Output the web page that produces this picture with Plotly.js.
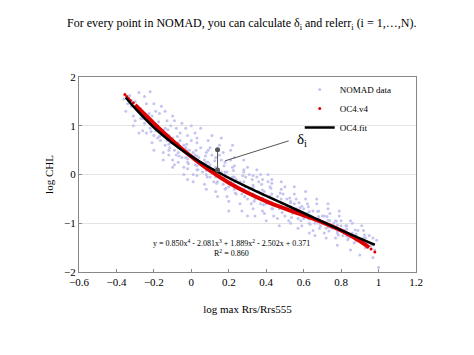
<!DOCTYPE html>
<html><head><meta charset="utf-8">
<script src="https://cdn.plot.ly/plotly-3.0.1.min.js"></script>
<style>body{margin:0;background:#fff}#c{width:474px;height:355px}</style>
</head><body><div id="c"></div>
<script>
// NOMAD cloud
const nomadX = [-0.36,-0.34,-0.33,-0.35,
-0.31,-0.30,-0.29,-0.28,-0.31,-0.28,-0.30,
-0.26,-0.25,-0.24,-0.26,-0.23,-0.25,-0.24,-0.22,-0.26,
-0.21,-0.20,-0.19,-0.21,-0.18,-0.20,-0.19,-0.17,-0.20,-0.18,-0.16,-0.21,
-0.15,-0.14,-0.13,-0.15,-0.12,-0.14,-0.13,-0.11,-0.15,-0.12,-0.10,-0.14,-0.11,
-0.10,-0.09,-0.08,-0.10,-0.07,-0.09,-0.08,-0.06,-0.10,-0.07,-0.05,-0.09,-0.06,-0.05,
-0.04,-0.03,-0.02,-0.04,-0.01,-0.03,-0.02,0.00,-0.04,-0.01,0.00,-0.03,-0.02,
0.01,0.02,0.03,0.01,0.04,0.02,0.03,0.05,0.01,0.04,0.05,0.02,0.06,0.03,
0.07,0.08,0.09,0.07,0.10,0.09,0.10,0.11,0.08,0.12,0.11,0.09,0.12,0.10,
0.13,0.14,0.15,0.13,0.16,0.15,0.17,0.16,0.14,0.18,0.17,0.15,0.18,0.16,
0.19,0.20,0.21,0.19,0.22,0.21,0.23,0.22,0.20,0.24,0.23,0.21,0.24,0.22,0.20,
0.26,0.27,0.28,0.26,0.29,0.28,0.30,0.29,0.27,0.31,0.30,0.28,0.32,0.31,0.30,
0.33,0.34,0.35,0.33,0.36,0.35,0.37,0.36,0.34,0.38,0.37,0.35,0.38,
0.39,0.40,0.41,0.39,0.42,0.41,0.43,0.42,0.40,0.44,0.43,0.41,0.44,
0.46,0.47,0.48,0.46,0.49,0.48,0.50,0.49,0.47,0.51,0.50,0.52,0.51,
0.53,0.54,0.55,0.53,0.56,0.55,0.57,0.56,0.58,0.57,0.55,
0.59,0.60,0.61,0.59,0.62,0.61,0.63,0.62,0.64,0.63,0.60,
0.65,0.66,0.67,0.65,0.68,0.67,0.69,0.68,0.66,0.70,
0.71,0.72,0.73,0.71,0.74,0.73,0.75,0.74,0.72,0.76,
0.77,0.78,0.79,0.77,0.80,0.79,0.81,0.80,0.82,0.78,
0.83,0.84,0.85,0.86,0.87,0.86,0.88,0.85,
0.89,0.90,0.91,0.92,0.93,0.92,0.94,0.90,
0.95,0.96,0.97,0.98,0.99,0.97,1.00];
const nomadY = [1.55,1.45,1.62,1.30,
1.20,1.50,1.35,1.68,1.00,0.85,1.10,
1.30,1.05,1.45,0.90,1.20,1.60,0.85,1.70,1.15,
1.10,0.80,1.30,0.65,1.00,1.45,0.90,1.25,0.50,0.75,1.40,1.20,
0.90,0.60,1.10,0.45,0.80,1.30,0.70,1.00,0.30,0.50,1.20,0.95,0.65,
0.75,0.50,0.95,0.30,0.65,1.10,0.40,0.85,0.15,0.55,1.05,0.20,0.70,0.35,
0.60,0.35,0.80,0.15,0.50,0.95,0.25,0.70,0.00,0.40,1.00,0.55,-0.10,
0.45,0.20,0.65,0.00,0.35,0.85,0.10,0.55,-0.15,0.25,0.95,0.40,0.05,0.75,
0.30,0.00,0.50,-0.20,0.20,0.70,-0.05,0.40,-0.30,0.10,0.80,0.25,-0.15,0.55,
0.15,-0.15,0.40,-0.35,0.05,0.60,-0.20,0.30,-0.45,0.00,0.45,-0.05,-0.30,0.75,
0.05,-0.25,0.30,-0.45,-0.05,0.50,-0.30,0.15,-0.55,-0.10,0.35,-0.15,-0.40,0.60,-0.75,
-0.15,-0.40,0.10,-0.60,-0.25,0.30,-0.50,-0.05,-0.75,-0.30,0.15,-0.35,-0.60,0.00,-0.85,
-0.25,-0.50,-0.05,-0.70,-0.35,0.10,-0.60,-0.15,-0.85,-0.40,0.00,-0.45,-0.75,
-0.35,-0.60,-0.15,-0.80,-0.45,0.00,-0.70,-0.25,-0.95,-0.50,-0.10,-0.55,-0.85,
-0.45,-0.70,-0.30,-0.90,-0.60,-0.15,-0.85,-0.40,-1.05,-0.65,-0.25,-0.95,-0.50,
-0.55,-0.80,-0.40,-1.00,-0.70,-0.25,-0.90,-0.50,-0.75,-1.10,-0.60,
-0.65,-0.90,-0.50,-1.05,-0.80,-0.35,-1.00,-0.60,-0.85,-1.20,-0.70,
-0.75,-1.00,-0.60,-1.15,-0.90,-0.50,-1.05,-0.75,-1.25,-0.85,
-0.85,-1.10,-0.70,-1.20,-0.95,-0.60,-1.10,-0.80,-1.30,-1.00,
-0.95,-1.20,-0.85,-1.30,-1.05,-0.75,-1.25,-0.95,-1.15,-1.45,
-1.05,-1.30,-0.95,-1.20,-1.40,-1.00,-1.25,-1.55,
-1.15,-1.35,-1.05,-1.30,-1.50,-1.15,-1.40,-1.65,
-1.25,-1.45,-1.30,-1.55,-1.35,-1.70,-1.90];
// denser core of the cloud
const nomadCoreX = [-0.32,-0.32,
-0.27,-0.27,-0.275,
-0.22,-0.22,-0.225,-0.215,
-0.17,-0.17,-0.175,-0.165,-0.17,
-0.12,-0.12,-0.125,-0.115,-0.12,-0.12,
-0.07,-0.07,-0.075,-0.065,-0.07,-0.07,
-0.02,-0.02,-0.025,-0.015,-0.02,-0.02,
0.03,0.03,0.025,0.035,0.03,0.03,
0.08,0.08,0.075,0.085,0.08,0.08,
0.13,0.13,0.125,0.135,0.13,0.13,
0.18,0.18,0.175,0.185,0.18,0.18,
0.23,0.23,0.225,0.235,0.23,0.23,
0.28,0.28,0.275,0.285,0.28,0.28,
0.33,0.33,0.325,0.335,0.33,0.33,
0.38,0.38,0.375,0.385,0.38,0.38,
0.43,0.43,0.425,0.435,0.43,0.43,
0.48,0.48,0.475,0.485,0.48,
0.53,0.53,0.525,0.535,0.53,
0.58,0.58,0.575,0.585,0.58,
0.63,0.63,0.625,0.635,0.63,
0.68,0.68,0.675,0.685,0.68,
0.73,0.73,0.725,0.735,
0.78,0.78,0.775,0.785,
0.83,0.83,0.825,0.835,
0.88,0.88,0.875,
0.93,0.93,0.925];
const nomadCoreY = [1.40,1.52,
1.35,1.15,1.28,
1.12,0.95,1.25,0.88,
0.95,0.78,1.08,0.70,0.88,
0.80,0.62,0.92,0.55,0.72,0.40,
0.62,0.45,0.78,0.38,0.55,0.25,
0.50,0.32,0.62,0.22,0.42,0.12,
0.38,0.18,0.50,0.10,0.28,-0.02,
0.25,0.08,0.38,-0.05,0.15,0.45,
0.15,-0.05,0.28,-0.18,0.05,0.35,
0.05,-0.12,0.18,-0.28,-0.05,0.25,
-0.05,-0.22,0.08,-0.38,-0.15,0.18,
-0.15,-0.30,-0.02,-0.45,-0.22,0.05,
-0.22,-0.40,-0.10,-0.55,-0.30,-0.02,
-0.32,-0.48,-0.20,-0.62,-0.40,-0.10,
-0.40,-0.58,-0.28,-0.70,-0.48,-0.18,
-0.50,-0.66,-0.38,-0.78,-0.58,
-0.58,-0.75,-0.48,-0.88,-0.66,
-0.68,-0.82,-0.58,-0.95,-0.75,
-0.76,-0.92,-0.66,-1.02,-0.84,
-0.86,-1.00,-0.76,-1.10,-0.93,
-0.94,-1.08,-0.86,-1.16,
-1.04,-1.16,-0.96,-1.24,
-1.12,-1.26,-1.05,-1.34,
-1.22,-1.36,-1.14,
-1.30,-1.44,-1.24];

// OC4.v4 model values
const oc4X = [-0.30,-0.25,-0.20,-0.15,-0.10,-0.05,0.00,0.10,0.20,0.30,0.40,0.50,0.60,0.70,0.80,0.90,0.95];
const oc4Y = [1.430,1.236,1.049,0.867,0.691,0.525,0.366,0.079,-0.168,-0.375,-0.550,-0.700,-0.838,-0.980,-1.148,-1.363,-1.497];
const oc4DotX = [-0.355,-0.345,-0.335,-0.325,-0.31,0.96,0.98];
const oc4DotY = [1.64,1.60,1.56,1.52,1.47,-1.53,-1.59];

// OC4.fit values
const fitX = [-0.35,-0.30,-0.20,-0.10,0.00,0.10,0.20,0.30,0.40,0.50,0.60,0.70,0.80,0.90,0.98];
const fitY = [1.580,1.355,0.965,0.642,0.371,0.138,-0.069,-0.259,-0.439,-0.615,-0.790,-0.965,-1.139,-1.310,-1.441];

// delta illustration
const deltaX = [0.14,0.14];
const deltaY = [0.51,0.09];
const leaderX = [0.18,0.52];
const leaderY = [0.28,0.69];

const serif = 'Liberation Serif';
const traces = [
 {x:nomadX.concat(nomadCoreX),y:nomadY.concat(nomadCoreY),mode:'markers',type:'scatter',name:'NOMAD data',
  marker:{size:3,color:'rgb(196,196,240)'}},
 {x:oc4X,y:oc4Y,mode:'lines',type:'scatter',name:'OC4.v4',showlegend:false,
  line:{color:'#e00000',width:4,shape:'spline'}},
 {x:oc4DotX,y:oc4DotY,mode:'markers',type:'scatter',name:'OC4.v4',
  marker:{size:3,color:'#e00000'}},
 {x:fitX,y:fitY,mode:'lines',type:'scatter',name:'OC4.fit',
  line:{color:'#000',width:2.5,shape:'spline'}},
 {x:deltaX,y:deltaY,mode:'lines+markers',type:'scatter',showlegend:false,
  line:{color:'#555',width:1},marker:{size:5,color:'#555'}},
 {x:leaderX,y:leaderY,mode:'lines',type:'scatter',showlegend:false,
  line:{color:'#555',width:1}}
];
const layout = {
 width:474,height:355,margin:{l:79,r:58,t:77,b:83},
 paper_bgcolor:'#fff',plot_bgcolor:'#fff',
 font:{family:serif,size:11,color:'#000'},
 title:{text:'For every point in NOMAD, you can calculate δ<sub>i</sub> and relerr<sub>i</sub> (i = 1,…,N).',
   font:{family:serif,size:12,color:'#000'},x:0.51,xanchor:'center',y:0.935,yanchor:'middle'},
 xaxis:{range:[-0.6,1.2],dtick:0.2,tick0:-0.6,showgrid:false,zeroline:false,
   showline:true,linecolor:'#888',mirror:true,ticks:'inside',ticklen:3,tickcolor:'#888',
   tickformat:'.1~f',tickfont:{size:11},
   title:{text:'log max Rrs/Rrs555',font:{size:11},standoff:18}},
 yaxis:{range:[-2,2],dtick:1,showgrid:true,gridcolor:'#e4e4e4',zeroline:false,
   showline:true,linecolor:'#888',mirror:true,ticks:'inside',ticklen:3,tickcolor:'#888',
   tickfont:{size:11},
   title:{text:'log CHL',font:{size:11},standoff:8}},
 legend:{x:0.655,xanchor:'left',y:1.01,yanchor:'top',bgcolor:'rgba(0,0,0,0)',
   font:{size:9},itemwidth:30,tracegroupgap:0},
 showlegend:true,
 annotations:[
  {x:0.215,y:-1.40,xref:'x',yref:'y',showarrow:false,
   text:'y = 0.850x<sup>4</sup> - 2.081x<sup>3</sup> + 1.889x<sup>2</sup> - 2.502x + 0.371',
   font:{size:8}},
  {x:0.215,y:-1.60,xref:'x',yref:'y',showarrow:false,text:'R<sup>2</sup> = 0.860',font:{size:8}},
  {x:0.59,y:0.70,xref:'x',yref:'y',showarrow:false,text:'δ<sub>i</sub>',font:{size:15},xanchor:'center'}
 ]
};
Plotly.newPlot('c',traces,layout,{staticPlot:true,displayModeBar:false});
</script></body></html>
